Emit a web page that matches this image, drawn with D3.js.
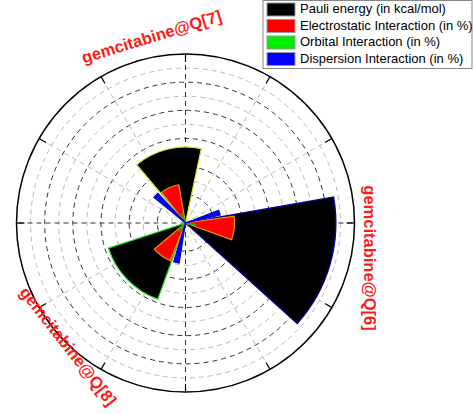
<!DOCTYPE html><html><head><meta charset="utf-8"><script src="https://cdn.jsdelivr.net/npm/d3@7"></script>
<style>body{margin:0;background:#fff}</style></head><body><svg id="c" width="474" height="414"></svg>
<script>
const categories=["gemcitabine@Q[6]","gemcitabine@Q[7]","gemcitabine@Q[8]"];
const series=["Pauli energy (in kcal/mol)","Electrostatic Interaction (in %)","Orbital Interaction (in %)","Dispersion Interaction (in %)"];
const pauli=[89,45,48];
const electrostatic=[29,23,24];
const orbital=[6,6,6];
const dispersion=[21,24,24];
const values=[pauli,electrostatic,orbital,dispersion];
const fills=["#000","#ff0000","#00ee00","#0000ff"];
const strokes=[["#0000aa","#ccee33","#22dd22"],"#ee9900","#22aa22","#0000cc"];
const svg=d3.select("#c");
const cx=185.5,cy=223,R=169;
const r=d3.scaleLinear().domain([0,100]).range([0,R]);
const rad=Math.PI/180;
const catAngle=d3.scaleOrdinal().domain(categories).range([106,-14,226]);
const span=[[-26,26],[-24,4],[-9,-3],[-37,-29]];
const g=svg.append("g").attr("transform",`translate(${cx},${cy})`);
d3.range(1,12).forEach(i=>{g.append("circle").attr("r",R*i/12).attr("fill","none")
 .attr("stroke",i%2==0?"#333":"#bbb").attr("stroke-width",1).attr("stroke-dasharray","5,4");});
d3.range(0,360,30).forEach(a=>{const x=Math.sin(a*rad),y=-Math.cos(a*rad);
 g.append("line").attr("x1",0).attr("y1",0).attr("x2",x*R).attr("y2",y*R)
 .attr("stroke",a%90==0?"#333":"#bbb").attr("stroke-dasharray","5,4");
 g.append("line").attr("x1",x*R).attr("y1",y*R).attr("x2",x*(R-8)).attr("y2",y*(R-8)).attr("stroke","#000").attr("stroke-width",1.2);});
g.append("circle").attr("r",R).attr("fill","none").attr("stroke","#000").attr("stroke-width",1.5);
const arc=d3.arc().innerRadius(0);
series.forEach((s,si)=>{categories.forEach((c,ci)=>{
 const a0=catAngle(c)+span[si][0],a1=catAngle(c)+span[si][1];
 const st=Array.isArray(strokes[si])?strokes[si][ci]:strokes[si];
 g.append("path").attr("d",arc({outerRadius:r(values[si][ci]),startAngle:a0*rad,endAngle:a1*rad}))
  .attr("fill",fills[si]).attr("stroke",st).attr("stroke-width",1.2);});});
const labPos=[[368,258,90],[152,38,-17],[67,347,52]];
categories.forEach((c,i)=>{const p=labPos[i];
 svg.append("text").attr("transform",`translate(${p[0]},${p[1]}) rotate(${p[2]})`).attr("text-anchor","middle")
 .attr("dominant-baseline","middle").attr("fill","#ff1a1a").attr("font-family","Liberation Sans, Arial").attr("font-weight","bold").attr("font-size",16.5).text(c);});
const lg=svg.append("g");
lg.append("rect").attr("x",263).attr("y",0.5).attr("width",209).attr("height",68).attr("fill","#fff").attr("stroke","#888");
series.forEach((s,i)=>{const y=3+i*16.5;
 lg.append("rect").attr("x",267).attr("y",y).attr("width",28).attr("height",13).attr("fill",fills[i]).attr("stroke","#999");
 lg.append("text").attr("x",300).attr("y",y+7).attr("dominant-baseline","middle").attr("font-family","Liberation Sans, Arial").attr("font-size",13).text(s);});
</script></body></html>
